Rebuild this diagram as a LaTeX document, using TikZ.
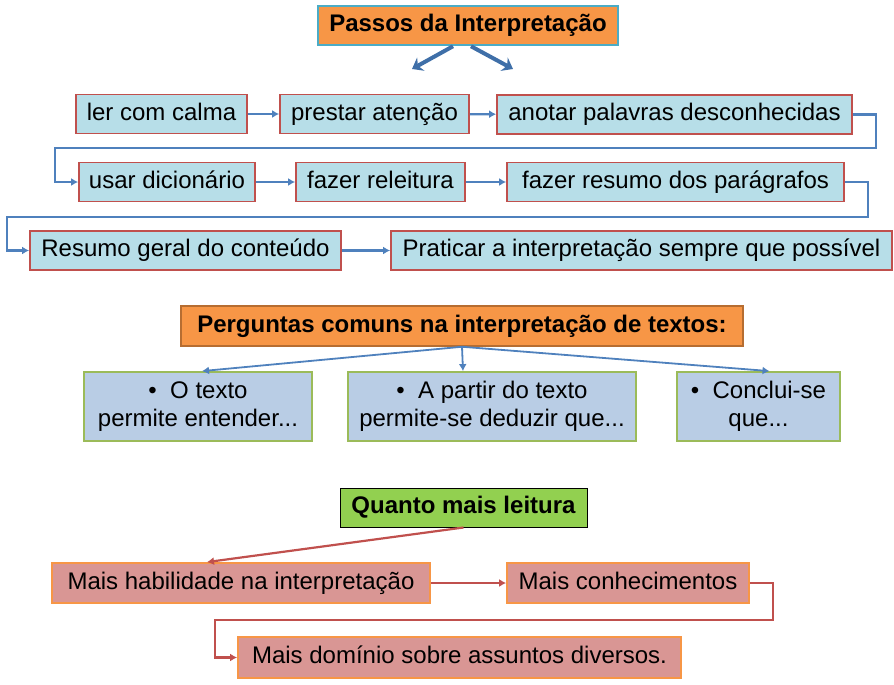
\documentclass[tikz,border=0pt]{standalone}
\usepackage{fontspec}
\setmainfont{Liberation Sans}
\usetikzlibrary{arrows.meta}

\definecolor{stepfill}{HTML}{B7DEE8}
\definecolor{stepline}{HTML}{C0504D}
\definecolor{headfill}{HTML}{F79646}
\definecolor{headline}{HTML}{4BACC6}
\definecolor{pergline}{HTML}{B66D31}
\definecolor{askfill}{HTML}{B9CDE5}
\definecolor{askline}{HTML}{9BBB59}
\definecolor{readfill}{HTML}{92D050}
\definecolor{gainfill}{HTML}{D99694}
\definecolor{connblue}{HTML}{4F81BD}
\definecolor{bigblue}{HTML}{3F6FA8}

\begin{document}
\begin{tikzpicture}[x=1pt, y=-1pt,
    every node/.style={font=\fontsize{24}{28}\selectfont, inner sep=0pt, minimum height=39pt, text height=17pt, text depth=5pt},
    stepbox/.style={draw=stepline, line width=1.8pt, fill=stepfill},
    headbox/.style={draw=headline, line width=2.5pt, fill=headfill, font=\fontsize{24}{28}\selectfont\bfseries},
    pergbox/.style={draw=pergline, line width=1.5pt, fill=headfill, font=\fontsize{24}{28}\selectfont\bfseries},
    askbox/.style={draw=askline, line width=1.8pt, fill=askfill, minimum height=69pt, align=center, text height={}, text depth={}},
    readbox/.style={draw=black, line width=1pt, fill=readfill, font=\fontsize{24}{28}\selectfont\bfseries},
    gainbox/.style={draw=headfill, line width=1.8pt, fill=gainfill},
    conn/.style={draw=connblue, line width=2.2pt, -{Latex[length=7pt,width=8pt]}},
    redconn/.style={draw=stepline, line width=2.2pt, -{Latex[length=7pt,width=8pt]}},
    bigarrow/.style={draw=bigblue, line width=4pt, -{Stealth[length=10pt,width=15pt]}}]
    \useasboundingbox (0,0) rectangle (894,685);

    % Passos da Interpretacao
    \node[headbox, minimum width=300pt] (passos) at (468, 25.5) {Passos da Interpretação};
    \coordinate (passosL) at (412, 69);
    \coordinate (passosR) at (513, 69);
    \draw[bigarrow] ([xshift=-15pt]passos.south) -- (passosL);
    \draw[bigarrow] ([xshift=3pt]passos.south) -- (passosR);

    % first row
    \node[stepbox, minimum width=171pt] (ler) at (161.5, 114) {ler com calma};
    \node[stepbox, minimum width=189pt] (prestar) at (374.5, 114) {prestar atenção};
    \node[stepbox, minimum width=355pt] (anotar) at (674.5, 114.5) {anotar palavras desconhecidas};

    % second row
    \node[stepbox, minimum width=176pt] (usar) at (167, 182) {usar dicionário};
    \node[stepbox, minimum width=169pt] (releitura) at (380.5, 182) {fazer releitura};
    \node[stepbox, minimum width=337pt] (resumo) at (675.5, 182) {fazer resumo dos parágrafos};

    % third row
    \node[stepbox, minimum width=311pt] (geral) at (185.5, 250.5) {Resumo geral do conteúdo};
    \node[stepbox, minimum width=501pt] (praticar) at (641.5, 250.5) {Praticar a interpretação sempre que possível};

    \draw[conn] (ler) -- (prestar);
    \draw[conn] (prestar) -- (anotar);
    \coordinate (turnA1) at (876, 148);
    \coordinate (turnA2) at (55, 148);
    \draw[conn] (anotar.east) -| (turnA1) -- (turnA2) |- (usar.west);
    \draw[conn] (usar) -- (releitura);
    \draw[conn] (releitura) -- (resumo);
    \coordinate (turnB1) at (868, 217);
    \coordinate (turnB2) at (7, 217);
    \draw[conn] (resumo.east) -| (turnB1) -- (turnB2) |- (geral.west);
    \draw[conn] (geral) -- (praticar);

    % Perguntas comuns
    \node[pergbox, minimum width=562pt, minimum height=40pt] (perguntas) at (462, 326) {Perguntas comuns na interpretação de textos:};
    \node[askbox, minimum width=228pt] (ask1) at (198, 406.5) {•\ \ O texto\\permite entender...};
    \node[askbox, minimum width=288pt] (ask2) at (492, 406.5) {•\ \ A partir do texto\\permite-se deduzir que...};
    \node[askbox, minimum width=163pt] (ask3) at (758.5, 406.5) {•\ \ Conclui-se\\que...};
    \draw[conn, line width=1.8pt] (perguntas.south) -- ([xshift=4pt]ask1.north);
    \draw[conn, line width=1.8pt] (perguntas.south) -- ([xshift=-29pt]ask2.north);
    \draw[conn, line width=1.8pt] (perguntas.south) -- ([xshift=11pt]ask3.north);

    % Quanto mais leitura
    \node[readbox, minimum width=247pt] (leitura) at (463.5, 507.5) {Quanto mais leitura};
    \node[gainbox, minimum width=378pt, minimum height=40pt] (habilidade) at (241, 583) {Mais habilidade na interpretação};
    \node[gainbox, minimum width=242pt, minimum height=40pt] (conhec) at (628, 583) {Mais conhecimentos};
    \node[gainbox, minimum width=443pt, minimum height=41pt] (dominio) at (459.5, 657.5) {Mais domínio sobre assuntos diversos.};
    \draw[redconn] (leitura.south) -- ([xshift=-34pt]habilidade.north);
    \draw[redconn] (habilidade) -- (conhec);
    \coordinate (turnC1) at (773, 620);
    \coordinate (turnC2) at (215, 620);
    \draw[redconn] (conhec.east) -| (turnC1) -- (turnC2) |- (dominio.west);
\end{tikzpicture}
\end{document}
